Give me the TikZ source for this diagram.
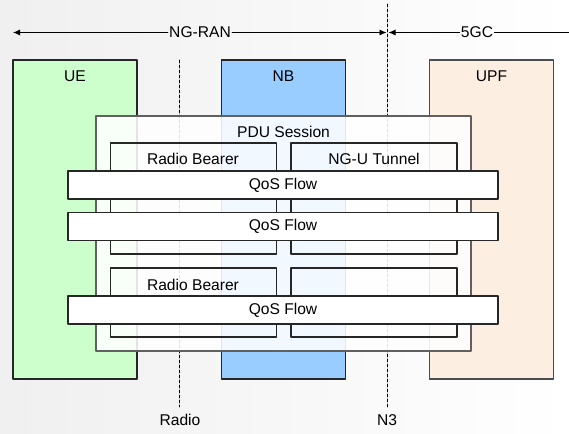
\documentclass[tikz,border=0pt]{standalone}
\usepackage{fontspec}
\setmainfont{Liberation Sans}
\usetikzlibrary{arrows.meta}
\definecolor{uegreen}{HTML}{CCFFCC}
\definecolor{nbblue}{HTML}{99CCFF}
\definecolor{upfpeach}{HTML}{FDEEE2}
\definecolor{edge}{HTML}{262626}

\begin{document}
\begin{tikzpicture}[line cap=round,line join=round,x=1pt,y=-1pt,
  every node/.style={font=\fontsize{15.6}{18}\selectfont,inner sep=1pt},
  unit/.style={draw=edge,line width=1.2pt,minimum width=124pt,minimum height=319pt},
  session/.style={draw=gray!75!black,line width=1.2pt,fill=white,fill opacity=0.88,text opacity=1,
    minimum width=375pt,minimum height=235pt},
  bearer/.style={draw=edge,line width=1.2pt,minimum width=166pt},
  flow/.style={draw=edge,line width=1.2pt,fill=white,minimum width=430pt,minimum height=28pt},
  divider/.style={line width=0.8pt,dash pattern=on 3pt off 2pt},
  span/.style={line width=0.8pt,-{Latex[length=7pt,width=6pt]}}]
% background
\path[use as bounding box,left color=gray!12,right color=white] (0,0) rectangle (569,433);
%
% network units
\node[unit,fill=uegreen] (ue) at (75,219.5) {};
\node[unit,fill=nbblue] (nb) at (283.5,219.5) {};
\node[unit,fill=upfpeach,draw=gray!60!black] (upf) at (491.5,219.5) {};
\node (uetxt) at (75,76) {UE};
\node (nbtxt) at (283.5,76) {NB};
\node (upftxt) at (491.5,76) {UPF};
%
% interfaces
\coordinate (radiotop) at (179,60);
\coordinate (radiobot) at (179,407);
\coordinate (ntop) at (387,4);
\coordinate (nbot) at (387,407);
\draw[divider] (radiotop) -- (radiobot);
\draw[divider] (ntop) -- (nbot);
\node (radiotxt) at (180,420) {Radio};
\node (ntxt) at (387,420) {N3};
%
% domains
\coordinate (ranleft) at (13,32.5);
\coordinate (ranright) at (386.5,32.5);
\coordinate (coreleft) at (388.5,32.5);
\coordinate (coreright) at (569,32.5);
\node (ngran) at (200,32.5) {NG-RAN};
\node (core) at (477,32.5) {5GC};
\draw[span] (ngran.west) -- (ranleft);
\draw[span] (ngran.east) -- (ranright);
\draw[span] (core.west) -- (coreleft);
\draw[line width=0.8pt] (core.east) -- (coreright);
%
% PDU session
\node[session] (pdu) at (283.5,233.5) {};
\node (pdutxt) at (283.5,132) {PDU Session};
\node[bearer,minimum height=111pt] (rb1) at (193.5,198.5) {};
\node[bearer,minimum height=111pt] (tun1) at (374,198.5) {};
\node[bearer,minimum height=69pt] (rb2) at (193.5,302.5) {};
\node[bearer,minimum height=69pt] (tun2) at (374,302.5) {};
\node (rb1txt) at (193,159) {Radio Bearer};
\node (tun1txt) at (374,159) {NG-U Tunnel};
\node (rb2txt) at (193,285) {Radio Bearer};
%
% QoS flows
\node[flow] (qos1) at (283,185) {QoS Flow};
\node[flow] (qos2) at (283,226.5) {QoS Flow};
\node[flow] (qos3) at (283,310) {QoS Flow};
\end{tikzpicture}
\end{document}
